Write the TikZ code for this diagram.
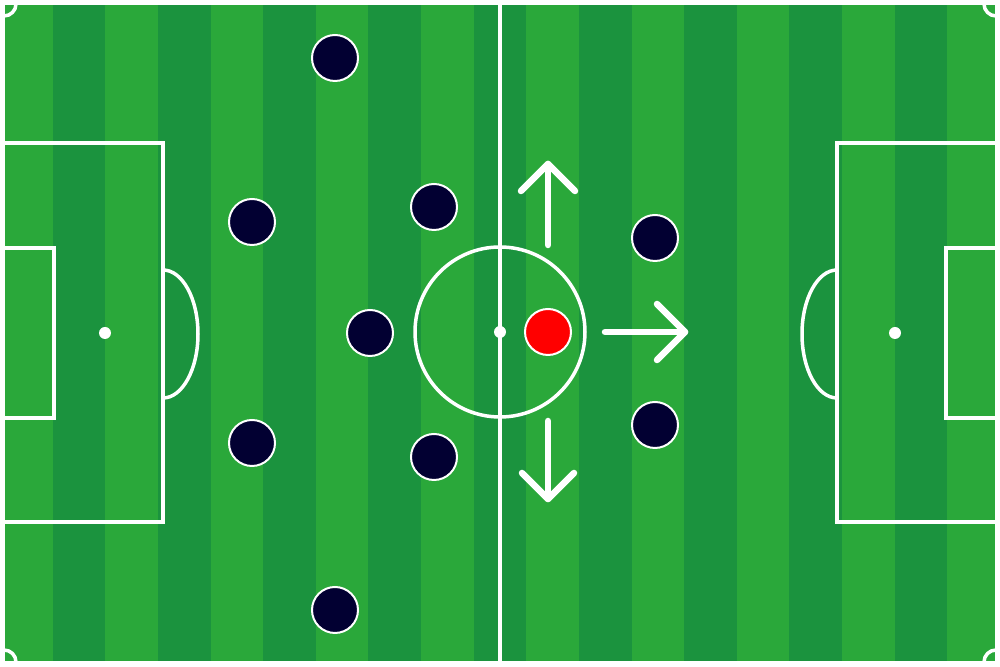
\documentclass[tikz,border=0pt]{standalone}
\definecolor{lightgrass}{RGB}{42,168,58}
\definecolor{darkgrass}{RGB}{27,147,62}
\definecolor{navy}{RGB}{2,0,50}
\definecolor{ballred}{RGB}{255,0,0}
\tikzset{
  pline/.style={draw=white,line width=0.35mm},
  spot/.style={fill=white,draw=none},
  player/.style={circle,fill=navy,draw=white,line width=0.2mm,minimum size=4.6mm,inner sep=0pt,outer sep=0pt},
  ballplayer/.style={player,fill=ballred},
  movearrow/.style={draw=white,line width=0.65mm,line cap=round,line join=round}
}
\begin{document}
\begin{tikzpicture}[x=0.1mm,y=-0.1mm]
\useasboundingbox (0,0) rectangle (1000,667);
\fill[white] (0,0) rectangle (1000,667);
% stripes
\begin{scope}
\clip (4,4) rectangle (996,662);
\fill[lightgrass] (0,0) rectangle (1000,667);
\foreach \i in {1,3,...,17}{
  \pgfmathsetmacro{\xa}{\i*52.6316}
  \pgfmathsetmacro{\xb}{(\i+1)*52.6316}
  \fill[darkgrass] (\xa,0) rectangle (\xb,667);
}
\end{scope}
% outer lines
\draw[pline] (3,3) rectangle (997,663);
% corner arcs
\draw[pline] (4,16) arc[start angle=90,end angle=0,radius=12];
\draw[pline] (984,4) arc[start angle=180,end angle=90,radius=12];
\draw[pline] (4,650) arc[start angle=270,end angle=360,radius=12];
\draw[pline] (984,662) arc[start angle=180,end angle=270,radius=12];
% halfway line and centre circle
\draw[pline] (500,4) -- (500,662);
\draw[pline] (500,332) circle[radius=85];
\fill[spot] (500,332) circle[radius=6];
% left penalty area
\draw[pline] (4,143) -- (163,143) -- (163,522) -- (4,522);
\draw[pline] (4,248) -- (54,248) -- (54,418) -- (4,418);
\fill[spot] (105,333) circle[radius=6];
\draw[pline] (163,270) arc[start angle=-90,end angle=90,x radius=35,y radius=64];
% right penalty area
\draw[pline] (996,143) -- (837,143) -- (837,522) -- (996,522);
\draw[pline] (996,248) -- (946,248) -- (946,418) -- (996,418);
\fill[spot] (895,333) circle[radius=6];
\draw[pline] (837,270) arc[start angle=270,end angle=90,x radius=35,y radius=64];
% players
\node[player] (p1) at (335,58) {};
\node[player] (p2) at (252,222) {};
\node[player] (p3) at (434,207) {};
\node[player] (p4) at (370,333) {};
\node[player] (p5) at (252,443) {};
\node[player] (p6) at (434,457) {};
\node[player] (p7) at (335,610) {};
\node[player] (p8) at (655,238) {};
\node[player] (p9) at (655,425) {};
\node[ballplayer] (ball) at (548,332) {};
% movement arrows
\coordinate (upS) at (548,245);
\coordinate (upT) at (548,164);
\coordinate (upL) at (521,191);
\coordinate (upR) at (575,191);
\draw[movearrow] (upS) -- (upT);
\draw[movearrow] (upL) -- (upT) -- (upR);
\coordinate (rtS) at (605,332);
\coordinate (rtT) at (685,332);
\coordinate (rtA) at (657,304);
\coordinate (rtB) at (657,360);
\draw[movearrow] (rtS) -- (rtT);
\draw[movearrow] (rtA) -- (rtT) -- (rtB);
\coordinate (dnS) at (548,421);
\coordinate (dnT) at (548,499);
\coordinate (dnL) at (522,473);
\coordinate (dnR) at (574,473);
\draw[movearrow] (dnS) -- (dnT);
\draw[movearrow] (dnL) -- (dnT) -- (dnR);
\end{tikzpicture}
\end{document}
